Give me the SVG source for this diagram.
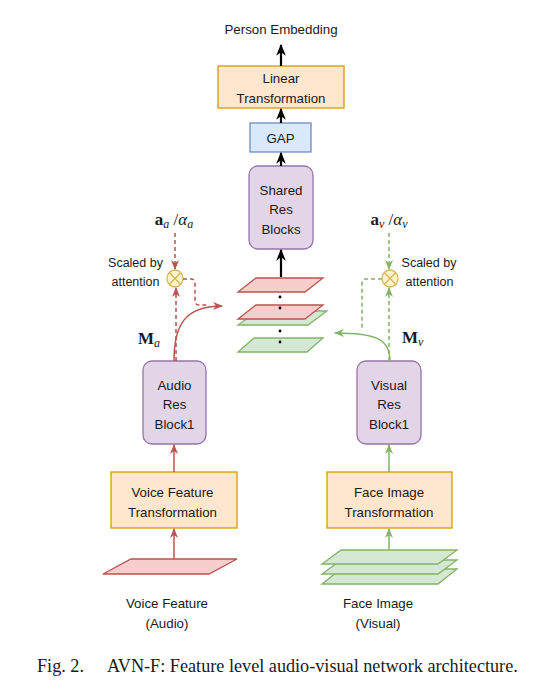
<svg xmlns="http://www.w3.org/2000/svg" width="560" height="692" viewBox="0 0 560 692">
<style>
.t{font-family:"Liberation Sans",Arial,sans-serif;font-size:13.3px;fill:#1a1a1a;text-anchor:middle}
.s{font-family:"Liberation Sans",Arial,sans-serif;font-size:12.5px;fill:#1a1a1a;text-anchor:middle}
.m{font-family:"Liberation Serif","Times New Roman",serif;font-size:17px;fill:#1a1a1a}
.cap{font-family:"Liberation Serif","Times New Roman",serif;font-size:18.2px;fill:#1a1a1a}
.purple{fill:#e1d5e7;stroke:#9673a6;stroke-width:1.3}
.orange{fill:#ffe6cc;stroke:#d79b00;stroke-width:1.3}
.blue{fill:#dae8fc;stroke:#6c8ebf;stroke-width:1.3}
.redp{fill:#f8cecc;stroke:#b85450;stroke-width:1.3}
.greenp{fill:#d5e8d4;stroke:#82b366;stroke-width:1.3}
.blk{fill:none;stroke:#000;stroke-width:2.2}
.red{fill:none;stroke:#b85450;stroke-width:1.5}
.green{fill:none;stroke:#82b366;stroke-width:1.5}
.dash{stroke-dasharray:4 3}
</style>
<defs>
<marker id="ab" viewBox="0 0 10 8" refX="9" refY="4" markerWidth="12" markerHeight="10" markerUnits="userSpaceOnUse" orient="auto"><path d="M0,0 L10,4 L0,8 L3,4 Z" fill="#000"/></marker>
<marker id="ar" viewBox="0 0 10 8" refX="9" refY="4" markerWidth="10" markerHeight="8" markerUnits="userSpaceOnUse" orient="auto"><path d="M0,0 L10,4 L0,8 L3,4 Z" fill="#b85450"/></marker>
<marker id="ag" viewBox="0 0 10 8" refX="9" refY="4" markerWidth="10" markerHeight="8" markerUnits="userSpaceOnUse" orient="auto"><path d="M0,0 L10,4 L0,8 L3,4 Z" fill="#82b366"/></marker>
</defs>

<g id="person-embedding"><text class="t" x="281" y="33.5">Person Embedding</text></g>
<g id="linear"><rect class="orange" x="218" y="66" width="126" height="42"/><text class="t" x="281" y="83">Linear</text><text class="t" x="281" y="102.5">Transformation</text></g>
<g id="gap"><rect class="blue" x="250" y="123" width="61" height="29"/><text class="t" x="280.5" y="142.5">GAP</text></g>
<g id="shared"><rect class="purple" x="249" y="166" width="64" height="83" rx="9"/><text class="t" x="281" y="194.5">Shared</text><text class="t" x="281" y="214">Res</text><text class="t" x="281" y="233.5">Blocks</text></g>

<g id="stack">
<polygon class="redp" points="256,278 323,278 305,292 238,292"/>
<circle cx="280" cy="297" r="1.4" fill="#000"/>
<polygon class="greenp" points="258,311 327,311 308,325 238,325"/>
<polygon class="redp" points="256,305 323,305 305,319 238,319"/>
<circle cx="280" cy="308" r="1.4" fill="#000"/>
<circle cx="280" cy="331" r="1.4" fill="#000"/>
<polygon class="greenp" points="254,338 323,338 307,352 238,352"/>
<circle cx="280" cy="342" r="1.4" fill="#000"/>
</g>

<g id="attn-audio"><ellipse cx="175" cy="278.5" rx="8" ry="8.5" fill="#fff2cc" stroke="#d6b656" stroke-width="1.3"/><path d="M169.3,272.5 L180.7,284.5 M180.7,272.5 L169.3,284.5" stroke="#d6b656" stroke-width="1.2"/></g>
<g id="attn-visual"><ellipse cx="390" cy="278.5" rx="8" ry="8.5" fill="#fff2cc" stroke="#d6b656" stroke-width="1.3"/><path d="M384.3,272.5 L395.7,284.5 M395.7,272.5 L384.3,284.5" stroke="#d6b656" stroke-width="1.2"/></g>

<g id="labels">
<text class="m" x="174" y="225" text-anchor="middle"><tspan font-weight="bold">a</tspan><tspan font-style="italic" font-size="12" dy="3">a</tspan><tspan dy="-3"> /</tspan><tspan font-style="italic">α</tspan><tspan font-style="italic" font-size="12" dy="3">a</tspan></text>
<text class="m" x="389" y="225" text-anchor="middle"><tspan font-weight="bold">a</tspan><tspan font-style="italic" font-size="12" dy="3">v</tspan><tspan dy="-3"> /</tspan><tspan font-style="italic">α</tspan><tspan font-style="italic" font-size="12" dy="3">v</tspan></text>
<text class="m" x="138" y="344"><tspan font-weight="bold">M</tspan><tspan font-style="italic" font-size="12" dy="3">a</tspan></text>
<text class="m" x="402" y="343"><tspan font-weight="bold">M</tspan><tspan font-style="italic" font-size="12" dy="3">v</tspan></text>
<text class="s" x="135.5" y="267">Scaled by</text><text class="s" x="135.5" y="286">attention</text>
<text class="s" x="429" y="267">Scaled by</text><text class="s" x="429.5" y="286">attention</text>
</g>

<g id="audio-res"><rect class="purple" x="143" y="361" width="63" height="83" rx="9"/><text class="t" x="174.5" y="389.5">Audio</text><text class="t" x="174.5" y="408.5">Res</text><text class="t" x="174.5" y="428.5">Block1</text></g>
<g id="visual-res"><rect class="purple" x="357" y="361" width="64" height="83" rx="9"/><text class="t" x="389" y="389.5">Visual</text><text class="t" x="389" y="408.5">Res</text><text class="t" x="389" y="428.5">Block1</text></g>

<g id="voice-transform"><rect class="orange" x="111" y="472" width="126" height="56"/><text class="t" x="172.5" y="496.5">Voice Feature</text><text class="t" x="172.5" y="516.5">Transformation</text></g>
<g id="face-transform"><rect class="orange" x="327" y="472" width="125" height="56"/><text class="t" x="389" y="496.5">Face Image</text><text class="t" x="389" y="516.5">Transformation</text></g>

<g id="voice-feature"><polygon class="redp" points="131,559 237,559 209,574 103,574"/><text class="t" x="167" y="607.5">Voice Feature</text><text class="t" x="167" y="627.5">(Audio)</text></g>
<g id="face-image">
<polygon class="greenp" points="341,569 457,569 438,584 322,584"/>
<polygon class="greenp" points="341,560 457,560 438,574 322,574"/>
<polygon class="greenp" points="341,550 457,550 438,564 322,564"/>
<text class="t" x="378" y="607.5">Face Image</text><text class="t" x="378" y="627.5">(Visual)</text></g>

<g id="connectors">
<path class="blk" d="M281,277 L281,250" marker-end="url(#ab)"/>
<path class="blk" d="M281,166 L281,153" marker-end="url(#ab)"/>
<path class="blk" d="M281,123 L281,109" marker-end="url(#ab)"/>
<path class="blk" d="M281,66 L281,45" marker-end="url(#ab)"/>
<path class="red" d="M174,559 L174,529" marker-end="url(#ar)"/>
<path class="red" d="M174,472 L174,445" marker-end="url(#ar)"/>
<path class="red dash" d="M175,233 L175,269" marker-end="url(#ar)"/>
<path class="red dash" d="M176,361 L176,288" marker-end="url(#ar)"/>
<path class="red" d="M174,361 C174,326 184,306 222,306" marker-end="url(#ar)"/>
<path class="red dash" d="M183,279 L191,279 Q195,279 195,283 L195,301 Q195,305 199,305 L208,305"/>
<path class="green" d="M389,550 L389,529" marker-end="url(#ag)"/>
<path class="green" d="M389,472 L389,445" marker-end="url(#ag)"/>
<path class="green dash" d="M389,233 L389,269" marker-end="url(#ag)"/>
<path class="green dash" d="M389,361 L389,288" marker-end="url(#ag)"/>
<path class="green" d="M390,361 C390,340 378,333 335,333" marker-end="url(#ag)"/>
<path class="green dash" d="M382,279 L366,279 Q362,279 362,283 L362,331"/>
</g>

<g id="caption"><text class="cap" x="37" y="672">Fig. 2.</text><text class="cap" x="107" y="672">AVN-F: Feature level audio-visual network architecture.</text></g>
</svg>
